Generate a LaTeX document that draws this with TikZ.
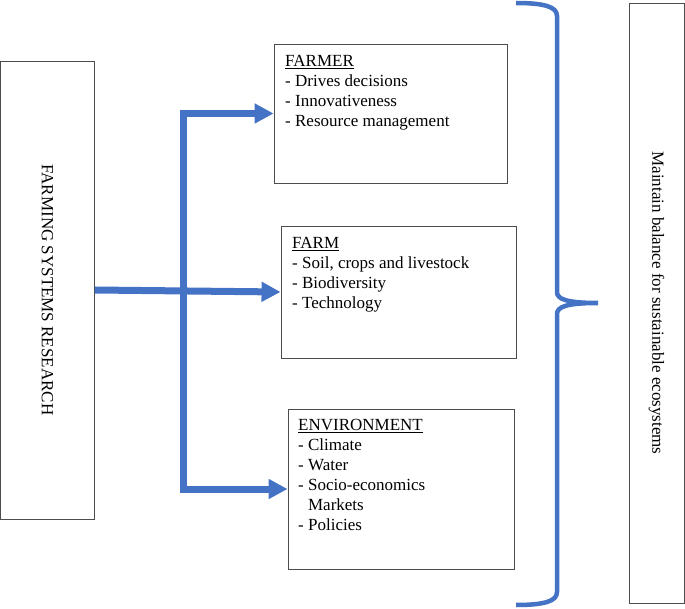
\documentclass[tikz,border=0pt]{standalone}
\usepackage{fontspec}
\setmainfont{Liberation Serif}
\usetikzlibrary{arrows.meta}
\definecolor{flowblue}{HTML}{4472C4}

\begin{document}
\begin{tikzpicture}[x=1pt, y=1pt,
        box/.style = {draw=black!70, line width=0.9pt, inner sep=0pt},
        boxtext/.style = {anchor=north west, inner sep=0pt, align=left, font=\fontsize{17}{20}\selectfont},
        sidetext/.style = {rotate=-90, inner sep=0pt, font=\fontsize{17}{20}\selectfont},
        flow/.style = {flowblue, line width=7pt}]
                \useasboundingbox (0,0) rectangle (685,608);
                % boxes
                \node[box, minimum width=94pt, minimum height=458pt] (fsr) at (47.5,318) {};
                \node[box, minimum width=233pt, minimum height=139pt] (farmer) at (390.5,494.5) {};
                \node[box, minimum width=235pt, minimum height=132pt] (farm) at (398.5,316) {};
                \node[box, minimum width=226pt, minimum height=160pt] (env) at (401,119) {};
                \node[box, minimum width=55pt, minimum height=600pt] (goal) at (656.5,305) {};
                % texts
                \node[sidetext] (fsr-txt) at (fsr.center) {FARMING SYSTEMS RESEARCH};
                \node[sidetext] (goal-txt) at (goal.center) {Maintain balance for sustainable ecosystems};
                \node[boxtext] (farmer-txt) at (285,553) {\underline{FARMER}\\- Drives decisions\\- Innovativeness\\- Resource management};
                \node[boxtext] (farm-txt) at (292,371) {\underline{FARM}\\- Soil, crops and livestock\\- Biodiversity\\- Technology};
                \node[boxtext] (env-txt) at (298,189) {\underline{ENVIRONMENT}\\- Climate\\- Water\\- Socio-economics\\\hphantom{- }Markets\\- Policies};
                % arrows
                \coordinate (trunk) at (183.5,119);
                \draw[flow, -{Triangle[length=19pt, width=19pt]}] (fsr.east) -- (farm.west);
                \draw[flow, {Triangle[length=19pt, width=19pt]}-{Triangle[length=19pt, width=19pt]}] (farmer.west) -| (trunk) -- (env.west);
                % brace
                \draw[flowblue, line width=4.5pt] (516,605) .. controls (545,605) and (557,601) .. (557,592)
                    -- (557,316) .. controls (557,309) and (566,305) .. (598,305)
                    .. controls (566,305) and (557,301) .. (557,294)
                    -- (557,16) .. controls (557,7) and (545,3) .. (516,3);
            \end{tikzpicture}
\end{document}
